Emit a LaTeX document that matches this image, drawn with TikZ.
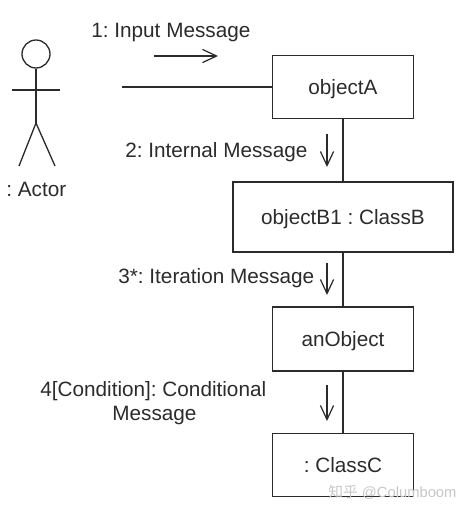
\documentclass[tikz,border=0pt]{standalone}
\usepackage{fontspec}
\setmainfont{Liberation Sans}
\newfontfamily\cjkfont{Noto Sans CJK SC}
\usetikzlibrary{arrows.meta}
\definecolor{inkline}{HTML}{2B2B2B}
\frenchspacing
\tikzset{
    objbox/.style={draw=inkline, line width=0.75pt, inner sep=0pt, text=inkline, text height=9pt, text depth=0pt, font=\fontsize{11.8}{14}\selectfont},
    msgtext/.style={anchor=base west, inner sep=0pt, text=inkline, font=\fontsize{11.8}{14}\selectfont},
    link/.style={draw=inkline, line width=0.75pt},
    msgarrow/.style={draw=inkline, line width=0.7pt, -{Straight Barb[length=8pt, width=7.5pt]}}
}
\begin{document}
\begin{tikzpicture}[x=0.02cm, y=-0.02cm]
    \useasboundingbox (0,0) rectangle (470,512);

    % actor
    \node[draw=inkline, line width=0.75pt, circle, minimum size=0.56cm, inner sep=0pt] (head) at (36,54) {};
    \coordinate (hip) at (36,123);
    \coordinate (armL) at (12,90);
    \coordinate (armR) at (60,90);
    \coordinate (legL) at (19,166);
    \coordinate (legR) at (55,166);
    \draw[link] (head) -- (hip);
    \draw[link] (armL) -- (armR);
    \draw[link] (legL) -- (hip) -- (legR);
    \node[msgtext] (actor) at (6,196) {: Actor};

    % objects
    \node[objbox, minimum width=2.83cm, minimum height=1.25cm] (objA) at (343,87) {objectA};
    \node[objbox, minimum width=4.4cm, minimum height=1.4cm] (objB) at (343,217) {objectB1 : ClassB};
    \node[objbox, minimum width=2.83cm, minimum height=1.28cm] (objC) at (343,339) {anObject};
    \node[objbox, minimum width=2.83cm, minimum height=1.25cm] (objD) at (343,465) {: ClassC};

    % links
    \coordinate (inEnd) at (122,87);
    \draw[link] (inEnd) -- (objA.west |- inEnd);
    \draw[link] (objA) -- (objB);
    \draw[link] (objB) -- (objC);
    \draw[link] (objC) -- (objD);

    % messages
    \node[msgtext] (msgA) at (91,37) {1: Input Message};
    \node[msgtext] (msgB) at (125,157) {2: Internal Message};
    \node[msgtext] (msgC) at (118,283) {3*: Iteration Message};
    \node[msgtext] (msgD) at (40,396) {4[Condition]: Conditional};
    \node[msgtext] (msgE) at (112,420) {Message};

    \coordinate (a1) at (154,56);
    \coordinate (a2) at (218,56);
    \coordinate (b1) at (327,134);
    \coordinate (b2) at (327,167);
    \coordinate (c1) at (327,263);
    \coordinate (c2) at (327,295);
    \coordinate (d1) at (327,385);
    \coordinate (d2) at (327,421);
    \draw[msgarrow] (a1) -- (a2);
    \draw[msgarrow] (b1) -- (b2);
    \draw[msgarrow] (c1) -- (c2);
    \draw[msgarrow] (d1) -- (d2);

    \node[anchor=base west, inner sep=0pt, text=black!22, font=\fontsize{8.4}{10}\selectfont] (mark) at (328,497) {{\cjkfont 知乎} @Columboom};
\end{tikzpicture}
\end{document}
